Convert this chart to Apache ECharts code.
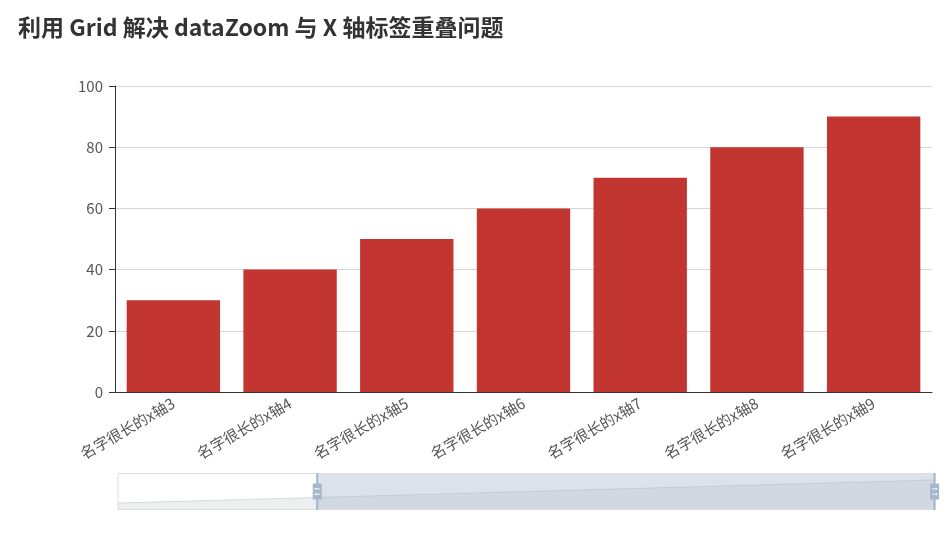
<!DOCTYPE html>
<html>
<head>
<meta charset="utf-8">
<script src="https://cdn.jsdelivr.net/npm/echarts@6/dist/echarts.min.js"></script>
<style>html,body{margin:0;padding:0;background:#fff;}#main{width:950px;height:556px;}</style>
</head>
<body>
<div id="main"></div>
<script>
var titleText = '利用 Grid 解决 dataZoom 与 X 轴标签重叠问题';
var categories = ['名字很长的x轴1','名字很长的x轴2','名字很长的x轴3','名字很长的x轴4','名字很长的x轴5','名字很长的x轴6','名字很长的x轴7','名字很长的x轴8','名字很长的x轴9'];
var values = [10, 20, 30, 40, 50, 60, 70, 80, 90];
var yTicks = [0, 20, 40, 60, 80, 100];

var handlePath = 'M8.2,13.6V3.9H6.3v9.7H3.1v14.9h3.3v9.7h1.8v-9.7h3.3V13.6H8.2z M9.7,24.4H4.8v-1.4h4.9V24.4z M9.7,19.1H4.8v-1.4h4.9V19.1z';
var chart = echarts.init(document.getElementById('main'));
var font = '"Noto Sans CJK SC", "Noto Sans", sans-serif';
chart.setOption({
  animation: false,
  textStyle: { fontFamily: font },
  title: {
    text: titleText, left: 13, top: 11,
    textStyle: { fontSize: 23, fontWeight: 'bold', color: '#333', fontFamily: font }
  },
  grid: { left: 115, right: 18, top: 86, bottom: 164 },
  xAxis: {
    type: 'category', data: categories,
    axisLine: { lineStyle: { color: '#333' } },
    axisTick: { length: 6, lineStyle: { color: '#333' } },
    axisLabel: { rotate: 30, interval: 0, color: '#555', fontSize: 15, margin: 10 }
  },
  yAxis: {
    type: 'value', min: yTicks[0], max: yTicks[yTicks.length - 1], interval: 20,
    axisLine: { show: true, lineStyle: { color: '#333' } },
    axisTick: { show: true, length: 6, lineStyle: { color: '#333' } },
    axisLabel: { color: '#555', fontSize: 15, margin: 12 },
    splitLine: { lineStyle: { color: '#d6d6d6' } }
  },
  dataZoom: [{
    type: 'slider', xAxisIndex: 0, start: 24.3, end: 100,
    left: 115, right: 17, bottom: 46, height: 37,
    showDetail: false, brushSelect: false, moveHandleSize: 0,
    borderColor: '#ddd', backgroundColor: 'rgba(47,69,84,0)',
    fillerColor: 'rgba(167,183,204,0.4)',
    handleIcon: handlePath, handleSize: '100%',
    handleStyle: { color: '#a7b7cc', borderWidth: 0 },
    emphasis: { handleStyle: { color: '#a7b7cc', borderWidth: 0 } },
    dataBackground: {
      lineStyle: { color: '#2f4554', width: 0.5, opacity: 0.3 },
      areaStyle: { color: 'rgba(47,69,84,0.3)', opacity: 0.3 }
    },
    selectedDataBackground: {
      lineStyle: { color: '#2f4554', width: 0.5, opacity: 0.3 },
      areaStyle: { color: 'rgba(47,69,84,0.3)', opacity: 0.3 }
    }
  }],
  series: [{
    type: 'bar', data: values, barWidth: '80%',
    itemStyle: { color: '#c23531' }
  }]
});
</script>
</body>
</html>
